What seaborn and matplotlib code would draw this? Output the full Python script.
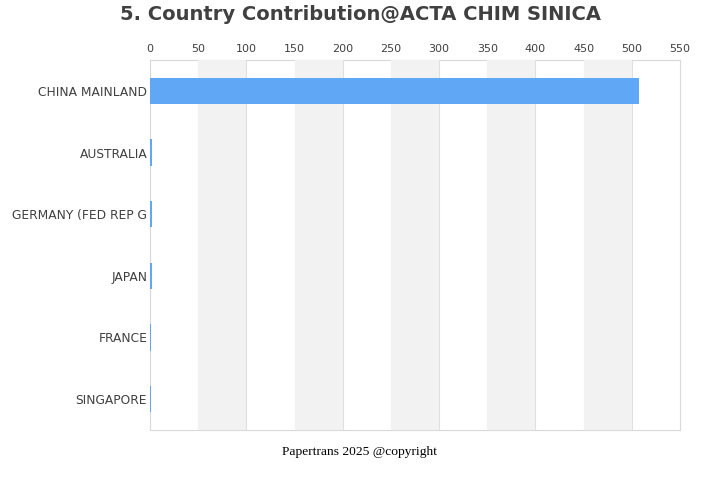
import matplotlib
matplotlib.use("Agg")
import matplotlib.pyplot as plt
import seaborn as sns
import pandas as pd

countries = ["CHINA MAINLAND", "AUSTRALIA", "GERMANY (FED REP G", "JAPAN", "FRANCE", "SINGAPORE"]
counts = [507, 2, 2, 2, 1, 1]
x_ticks = [0, 50, 100, 150, 200, 250, 300, 350, 400, 450, 500, 550]

df = pd.DataFrame({"country": countries, "count": counts})

sns.set_theme(style="white")
plt.rcParams['font.family'] = ['DejaVu Sans']

fig = plt.figure(figsize=(7.2, 4.8), dpi=100)
ax = fig.add_axes([150/720, 1-430/480, 530/720, 370/480])

# alternating bands
for i in range(len(x_ticks) - 1):
    if i % 2 == 1:
        ax.axvspan(x_ticks[i], x_ticks[i+1], color="#f2f2f2", zorder=0, lw=0)
for t in x_ticks[1:-1]:
    ax.axvline(t, color="#e0e0e0", lw=0.8, zorder=0.5)

sns.barplot(data=df, y="country", x="count", orient="h", color="#60a8f5",
            width=0.43, ax=ax, saturation=1)
for p in ax.patches:
    p.set_zorder(3)
    p.set_linewidth(0)

ax.set_xlim(0, 550)
ax.set_xticks(x_ticks)
ax.xaxis.tick_top()
ax.tick_params(axis="x", labelsize=8, colors="#404040", length=0, pad=4)
ax.tick_params(axis="y", labelsize=8.8, colors="#404040", length=0, pad=2)
ax.set_xlabel("")
ax.set_ylabel("")
for s in ax.spines.values():
    s.set_color("#d9d9d9")
    s.set_linewidth(0.8)
    s.set_zorder(2)

fig.text(0.5, 1-14/480, "5. Country Contribution@ACTA CHIM SINICA", ha="center", va="center",
         fontsize=14, fontweight="bold", color="#404040")
fig.text(359/720, 1-452/480, "Papertrans 2025 @copyright", ha="center", va="center",
         fontsize=9.7, family="Liberation Serif", color="black")

fig.savefig("out.png", dpi=100)
